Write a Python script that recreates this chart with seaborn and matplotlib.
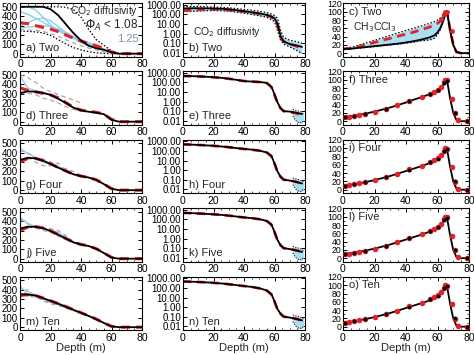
import numpy as np
import pandas as pd
import seaborn as sns
import matplotlib.pyplot as plt
from matplotlib.ticker import FixedLocator, FuncFormatter, NullLocator

# depth grids (m)
depth_left = [0, 5, 10, 15, 20, 25, 30, 35, 40, 45, 50, 55, 60, 65, 70, 75, 80]
depth_mid = [0, 5, 10, 15, 20, 25, 30, 35, 40, 45, 50, 55, 58, 60, 62, 64, 66, 70, 74, 78]
depth_right = [0, 5, 10, 15, 20, 25, 30, 35, 40, 45, 50, 55, 58, 60, 62, 64, 65, 66, 68, 70, 72, 75, 80]
depth_tail = [72, 74, 76, 78, 79]

rows = ["Two", "Three", "Four", "Five", "Ten"]
letters = [("a", "b", "c"), ("d", "e", "f"), ("g", "h", "i"), ("j", "k", "l"), ("m", "n", "o")]

# ---- left column: CO2 diffusivity (linear) ----
a_black = [500, 500, 500, 500, 475, 410, 315, 220, 140, 85, 58, 42, 15, 0, 0, 0, 0]
a_red = [330, 320, 300, 280, 262, 235, 200, 165, 135, 110, 85, 55, 18, 0, 0, 0, 0]
a_blue1 = [450, 420, 380, 335, 290, 250, 210, 170, 130, 95, 62, 32, 6, 0]
a_blue2 = [300, 330, 365, 380, 350, 290, 225, 165, 115, 82, 58, 38, 10, 0]
a_blue3 = [270, 282, 292, 300, 290, 265, 228, 182, 142, 108, 78, 48, 14, 0]
a_blue4 = [500, 500, 470, 390, 310, 245, 200, 168, 148, 118, 88, 50, 10, 0]
a_up = [500, 500, 500, 500, 500, 500, 495, 470, 390, 260, 150, 90, 30, 0]
a_lo = [240, 238, 232, 222, 195, 150, 105, 65, 40, 22, 10, 2, 0, 0]
a_gray = [255, 252, 248, 238, 215, 185, 150, 115, 85, 60, 40, 20, 5, 0]

d_black = [305, 322, 320, 308, 285, 245, 200, 150, 120, 106, 96, 80, 20, 0, 0, 0, 0]
d_red = [360, 335, 318, 302, 285, 255, 205, 152, 124, 110, 100, 82, 25, 0, 0, 0, 0]
d_blue = [490, 360, 330, 300, 290, 250, 190, 150, 118]
d_gray1 = [500, 470, 420, 360, 320, 290, 260, 230, 200]
d_gray2 = [300, 300, 290, 250, 230, 200, 160, 130, 110]

g_black = [320, 345, 340, 315, 280, 240, 205, 170, 150, 135, 110, 65, 15, 0, 0, 0, 0]
g_red = [300, 338, 338, 318, 282, 242, 205, 170, 150, 136, 110, 66, 16, 0, 0, 0, 0]
g_blue = [450, 390, 350, 300, 270, 250, 220, 165, 155]
g_gray1 = [420, 400, 350, 330, 300, 250, 230, 200, 160]
g_gray2 = [330, 350, 300, 260, 260, 290, 200, 170, 140]

j_black = [320, 340, 340, 325, 295, 255, 215, 175, 150, 135, 105, 60, 12, 0, 0, 0, 0]
j_red = [300, 335, 342, 328, 298, 258, 215, 176, 152, 136, 106, 62, 14, 0, 0, 0, 0]
j_blue = [440, 380, 340, 320, 300, 280, 230, 170, 150]
j_gray1 = [420, 370, 340, 330, 320, 300, 250, 180, 150]
j_gray2 = [330, 340, 330, 300, 280, 240, 210, 170, 145]

m_black = [350, 348, 338, 310, 280, 250, 218, 185, 152, 120, 85, 45, 8, 0, 0, 0, 0]
m_red = [340, 345, 338, 312, 282, 252, 220, 187, 154, 121, 86, 46, 9, 0, 0, 0, 0]
m_blue = [420, 380, 340, 300, 275, 255, 230, 190, 155]
m_gray1 = [440, 330, 320, 290, 260, 240, 210, 180, 150]
m_gray2 = [310, 400, 330, 280, 250, 230, 200, 175, 150]

# ---- middle column: CO2 diffusivity (log) ----
b_black = [420, 450, 450, 440, 430, 400, 350, 280, 220, 170, 130, 90, 60, 40, 10, 0.5, 0.15, 0.08, 0.06, 0.04]
b_red = [250, 280, 320, 350, 360, 340, 300, 250, 200, 160, 120, 85, 55, 35, 8, 0.4, 0.15, 0.08, 0.05, 0.03]
b_up = [700, 700, 700, 650, 600, 560, 500, 420, 340, 280, 220, 160, 110, 80, 40, 2, 0.4, 0.2, 0.15, 0.1]
b_lo = [200, 210, 230, 250, 260, 250, 220, 180, 140, 100, 75, 50, 30, 18, 2, 0.2, 0.08, 0.04, 0.02, 0.008]

e_black = [500, 470, 440, 400, 360, 310, 250, 190, 140, 125, 115, 90, 35, 6, 0.8, 0.2, 0.1, 0.09, 0.07, 0.05]
e_red = [480, 460, 430, 395, 355, 305, 248, 190, 142, 127, 112, 85, 33, 5, 0.7, 0.2, 0.1, 0.08, 0.06, 0.04]
h_black = [500, 470, 430, 390, 350, 300, 250, 200, 165, 140, 110, 70, 30, 5, 0.7, 0.2, 0.1, 0.08, 0.06, 0.04]
h_red = [490, 465, 428, 388, 348, 300, 250, 200, 163, 138, 108, 68, 28, 5, 0.6, 0.2, 0.1, 0.08, 0.06, 0.04]
k_black = [500, 470, 430, 390, 350, 305, 255, 205, 165, 140, 110, 70, 30, 5, 0.7, 0.2, 0.1, 0.08, 0.06, 0.04]
k_red = [490, 468, 428, 388, 348, 303, 253, 203, 163, 138, 108, 68, 28, 5, 0.6, 0.2, 0.1, 0.08, 0.06, 0.04]
n_black = [480, 460, 430, 390, 350, 300, 250, 200, 160, 130, 95, 55, 22, 4, 0.6, 0.2, 0.1, 0.08, 0.06, 0.04]
n_red = [470, 455, 428, 388, 348, 298, 248, 198, 158, 128, 93, 53, 21, 4, 0.5, 0.2, 0.1, 0.08, 0.06, 0.04]
tail_up = [0.15, 0.12, 0.1, 0.08, 0.05]
tail_lo = [0.03, 0.01, 0.006, 0.006, 0.01]

# ---- right column: CH3CCl3 ----
c_black = [10, 11, 13, 15, 17, 19, 21, 23, 26, 29, 33, 38, 43, 50, 62, 82, 95, 100, 55, 20, 3, 0, 0]
c_red = [10, 12, 16, 21, 26, 31, 36, 41, 46, 51, 57, 63, 68, 72, 78, 90, 98, 101, 57, 21, 3, 0, 0]
c_up = [12, 14, 19, 25, 31, 37, 43, 49, 55, 60, 66, 72, 76, 80, 85, 93, 99, 102, 60, 23, 4, 0, 0]
c_lo = [9, 10, 12, 14, 16, 18, 20, 22, 24, 27, 30, 32, 36, 45, 58, 80, 94, 99, 52, 18, 2, 0, 0]
f_black = [10, 12, 15, 19, 23, 28, 33, 39, 45, 52, 58, 65, 70, 74, 80, 90, 98, 100, 55, 20, 3, 0, 0]
i_black = [10, 12, 15, 19, 23, 28, 33, 39, 45, 51, 57, 64, 69, 73, 80, 90, 97, 99, 55, 20, 3, 0, 0]
l_black = [10, 12, 15, 19, 23, 28, 33, 39, 45, 51, 57, 64, 69, 73, 80, 90, 97, 99, 55, 20, 3, 0, 0]
o_black = [10, 12, 15, 19, 23, 28, 33, 39, 45, 51, 57, 63, 68, 72, 79, 89, 97, 99, 55, 20, 3, 0, 0]
firn_depth = [1, 4, 7, 10, 14, 20, 27, 34, 42, 50, 55, 58, 60, 62, 64, 65, 66, 69, 71, 73, 79]
firn_black = [10, 11, 13, 15, 18, 23, 30, 38, 48, 59, 66, 70, 75, 82, 93, 99, 98, 55, 20, 3, 0]
firn_red = [10, 11, 13, 15, 18, 23, 30, 39, 49, 58, 66, 71, 76, 83, 94, 100, 99, 54, 19, 2, 0]

left_data = [
    (a_black, a_red, [a_blue1, a_blue2, a_blue3, a_blue4], [a_gray]),
    (d_black, d_red, [d_blue], [d_gray1, d_gray2]),
    (g_black, g_red, [g_blue], [g_gray1, g_gray2]),
    (j_black, j_red, [j_blue], [j_gray1, j_gray2]),
    (m_black, m_red, [m_blue], [m_gray1, m_gray2]),
]
mid_data = [(b_black, b_red), (e_black, e_red), (h_black, h_red), (k_black, k_red), (n_black, n_red)]
right_data = [c_black, f_black, i_black, l_black, o_black]

RED = "#e1222b"
BLUE = "#8fd0ea"
FILL = "#a9dff0"
GRAY = "#a0a0a0"

sns.set_theme(style="ticks")
plt.rcParams["font.family"] = ["Liberation Sans", "DejaVu Sans"]
plt.rcParams.update({
    "xtick.direction": "in", "ytick.direction": "in",
    "xtick.top": True, "ytick.right": True,
    "xtick.major.size": 3, "ytick.major.size": 3,
    "xtick.minor.size": 1.5, "ytick.minor.size": 1.5,
    "xtick.major.width": 0.7, "ytick.major.width": 0.7,
    "xtick.minor.width": 0.6, "ytick.minor.width": 0.6,
    "axes.linewidth": 0.8, "axes.edgecolor": "black",
    "xtick.labelsize": 7.5, "ytick.labelsize": 7,
    "xtick.major.pad": 2, "ytick.major.pad": 1.5,
})

W, H = 474, 355
fig = plt.figure(figsize=(W / 100, H / 100), dpi=100)

cols_px = [(20, 142), (183, 305), (343, 469)]
tops_px = [3, 71, 139.5, 208, 276.5]
h_px = 53.5


def line(ax, x, y, **kw):
    sns.lineplot(x=x, y=y, ax=ax, sort=False, estimator=None, **kw)


def style(ax):
    ax.set_xlim(0, 80)
    ax.xaxis.set_major_locator(FixedLocator([0, 20, 40, 60, 80]))
    ax.xaxis.set_minor_locator(FixedLocator(list(range(0, 81, 5))))
    ax.tick_params(axis="both", colors="black", labelcolor="black")
    ax.set_ylabel("")
    ax.set_xlabel("")


for r in range(5):
    axes = []
    for c in range(3):
        x0, x1 = cols_px[c]
        top = tops_px[r]
        ax = fig.add_axes([x0 / W, 1 - (top + h_px) / H, (x1 - x0) / W, h_px / H])
        axes.append(ax)
    axl, axm, axr = axes

    # left
    black, red, blues, grays = left_data[r]
    if r == 0:
        line(axl, depth_left[:14], a_up, color="black", lw=0.9, ls=(0, (1.2, 1.5)))
        line(axl, depth_left[:14], a_lo, color="black", lw=0.9, ls=(0, (1.2, 1.5)))
    for g in grays:
        line(axl, depth_left[:len(g)], g, color=GRAY, lw=0.8, ls=(0, (4, 3)))
    for b in blues:
        line(axl, depth_left[:len(b)], b, color=BLUE, lw=1.0)
    line(axl, depth_left, red, color=RED, lw=2.2, ls=(0, (3, 2)))
    line(axl, depth_left, black, color="black", lw=1.3)
    style(axl)
    axl.set_ylim(-30, 540)
    axl.yaxis.set_major_locator(FixedLocator([0, 100, 200, 300, 400, 500]))
    axl.yaxis.set_minor_locator(NullLocator())

    # middle
    mblack, mred = mid_data[r]
    if r == 0:
        axm.fill_between(depth_mid, b_lo, b_up, color=FILL, lw=0)
        line(axm, depth_mid, b_up, color="black", lw=0.9, ls=(0, (1.2, 1.5)))
        line(axm, depth_mid, b_lo, color="black", lw=0.9, ls=(0, (1.2, 1.5)))
    else:
        axm.fill_between(depth_tail, tail_lo, tail_up, color=FILL, lw=0)
        line(axm, depth_tail, tail_up, color="black", lw=0.7, ls=(0, (1.2, 1.5)))
        line(axm, depth_tail, tail_lo, color="black", lw=0.7, ls=(0, (1.2, 1.5)))
    line(axm, depth_mid, mred, color=RED, lw=2.0, ls=(0, (3, 2)))
    line(axm, depth_mid, mblack, color="black", lw=1.3)
    style(axm)
    axm.set_yscale("log")
    axm.set_ylim(0.004, 1600)
    axm.yaxis.set_major_locator(FixedLocator([0.01, 0.1, 1, 10, 100, 1000]))
    axm.yaxis.set_minor_locator(NullLocator())
    axm.yaxis.set_major_formatter(FuncFormatter(lambda v, p: f"{v:.2f}"))

    # right
    rblack = right_data[r]
    if r == 0:
        axr.fill_between(depth_right, c_lo, c_up, color=FILL, lw=0)
        line(axr, depth_right, c_up, color="black", lw=0.9, ls=(0, (1.2, 1.5)))
        line(axr, depth_right, c_lo, color="black", lw=0.9, ls=(0, (1.2, 1.5)))
        line(axr, depth_right, c_red, color=RED, lw=2.0, ls=(0, (3, 2)))
        line(axr, depth_right, rblack, color="black", lw=1.3)
        sns.scatterplot(x=firn_depth[13:18], y=firn_red[13:18], ax=axr, color=RED, s=12, lw=0, zorder=5)
    else:
        line(axr, depth_right, rblack, color="black", lw=1.3)
        sns.scatterplot(x=firn_depth, y=firn_red, ax=axr, color=RED, s=16, lw=0, zorder=5)
        sns.scatterplot(x=firn_depth[::2], y=firn_black[::2], ax=axr, color="black", s=8, lw=0, zorder=6)
    style(axr)
    axr.set_ylim(-8, 121)
    axr.yaxis.set_major_locator(FixedLocator([0, 20, 40, 60, 80, 100, 120]))
    axr.yaxis.set_minor_locator(FixedLocator(list(range(0, 121, 10))))
    axr.tick_params(axis="y", labelsize=6.3, pad=1)

    la, lb, lc = letters[r]
    axl.text(0.05, 0.1, f"{la}) {rows[r]}", transform=axl.transAxes, fontsize=8)
    axm.text(0.05, 0.1, f"{lb}) {rows[r]}", transform=axm.transAxes, fontsize=8)
    axr.text(0.05, 0.78, f"{lc}) {rows[r]}", transform=axr.transAxes, fontsize=8)

    if r == 0:
        axl.text(0.97, 0.8, "CO$_2$ diffusivity", transform=axl.transAxes, fontsize=7.5, ha="right")
        axl.text(0.97, 0.52, "$\\Phi_A$ < 1.08", transform=axl.transAxes, fontsize=8.5, ha="right")
        axl.text(0.97, 0.27, "1.25", transform=axl.transAxes, fontsize=8, ha="right", color="#7d93ad")
        axm.text(0.08, 0.4, "CO$_2$ diffusivity", transform=axm.transAxes, fontsize=7.5)
        axr.text(0.08, 0.5, "CH$_3$CCl$_3$", transform=axr.transAxes, fontsize=7.5)

    if r == 4:
        for ax in axes:
            ax.set_xlabel("Depth (m)", fontsize=8, labelpad=0.5)

fig.savefig("out.png", dpi=100)
